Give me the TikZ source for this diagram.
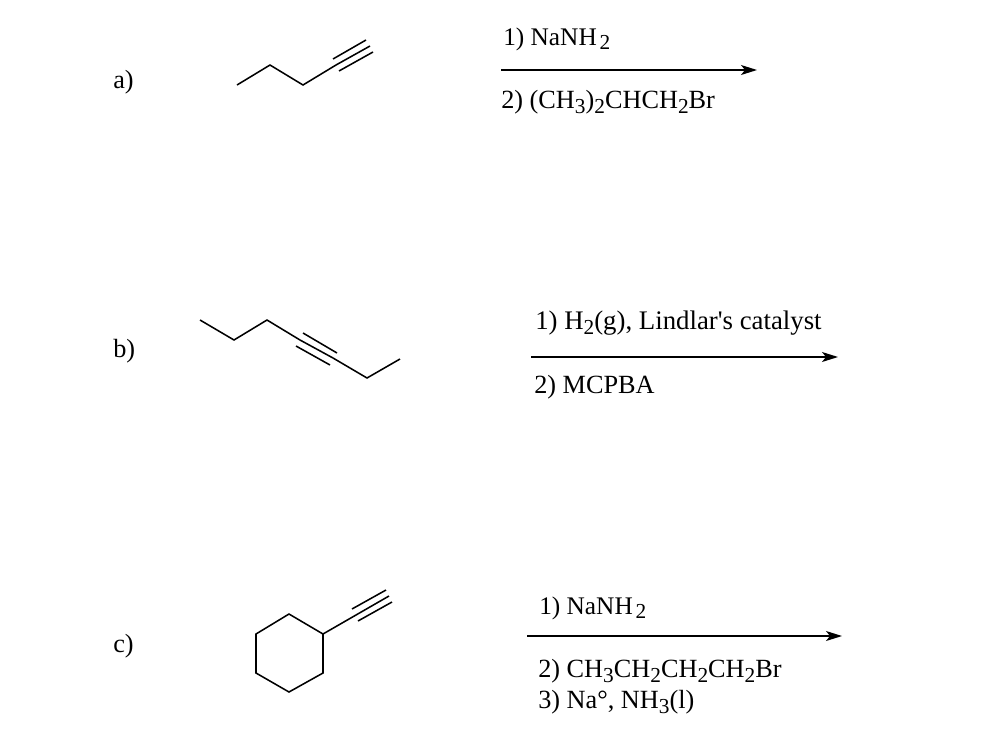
\documentclass[tikz,border=0pt]{standalone}
\usepackage{fontspec}
\setmainfont{Liberation Serif}
\newfontfamily\plainserif{Liberation Serif}
\usetikzlibrary{arrows.meta}
\newcommand{\dn}[1]{\raisebox{-0.42ex}{\fontsize{16}{16}\selectfont #1}}
\tikzset{
  reagent/.style={anchor=base west,inner sep=0,font=\fontsize{19.7}{22}\selectfont},
  reagenttop/.style={reagent,font=\fontsize{19}{22}\selectfont},
  reagentwide/.style={reagent,font=\fontsize{20.1}{22}\selectfont},
  itemlabel/.style={anchor=base west,inner sep=0,font=\fontsize{19.7}{22}\selectfont},
  bond/.style={line width=1.15pt,line join=miter},
  rxnarrow/.style={line width=1.05pt,-{Stealth[length=12pt,width=7.5pt,inset=3pt]}}
}
\begin{document}
\begin{tikzpicture}[x=0.75pt,y=-0.75pt]
\useasboundingbox (0,0) rectangle (1000,740);
% a)
\node[itemlabel](La)at(113,88){a)};
\coordinate(A1)at(237,85);
\coordinate(A2)at(270,65);
\coordinate(A3)at(303,85);
\coordinate(A4)at(336,65);
\coordinate(A5)at(370,46);
\coordinate(A6)at(333,59);
\coordinate(A7)at(366,40);
\coordinate(A8)at(339,71);
\coordinate(A9)at(373,52);
\draw[bond](A1)--(A2)--(A3)--(A4)--(A5);
\draw[bond](A6)--(A7);
\draw[bond](A8)--(A9);
\coordinate(Sa)at(501,70);
\coordinate(Ea)at(757,70);
\draw[rxnarrow](Sa)--(Ea);
\node[reagenttop](Ra1)at(503,45){1) NaNH\kern2pt\dn{2}};
\node[reagent](Ra2)at(501,108){2) (CH\dn{3})\dn{2}CHCH\dn{2}Br};
% b)
\node[itemlabel](Lb)at(113,357){b)};
\coordinate(B1)at(200,320);
\coordinate(B2)at(234,340);
\coordinate(B3)at(267,320);
\coordinate(B4)at(300,340);
\coordinate(B5)at(333,358);
\coordinate(B6)at(367,378);
\coordinate(B7)at(400,359);
\coordinate(B8)at(303,333);
\coordinate(B9)at(337,353);
\coordinate(B10)at(296,346);
\coordinate(B11)at(330,365);
\draw[bond](B1)--(B2)--(B3)--(B4)--(B5)--(B6)--(B7);
\draw[bond](B8)--(B9);
\draw[bond](B10)--(B11);
\coordinate(Sb)at(531,357);
\coordinate(Eb)at(838,357);
\draw[rxnarrow](Sb)--(Eb);
\node[reagentwide](Rb1)at(535,329){1) H\dn{2}(g), Lindlar{\plainserif '}s catalyst};
\node[reagent](Rb2)at(534,393){2) MCPBA};
% c)
\node[itemlabel](Lc)at(113,652){c)};
\coordinate(C1)at(289,614);
\coordinate(C2)at(323,634);
\coordinate(C3)at(323,673);
\coordinate(C4)at(289,692);
\coordinate(C5)at(256,673);
\coordinate(C6)at(256,634);
\coordinate(C7)at(356,615);
\coordinate(C8)at(389,596);
\coordinate(C9)at(352,609);
\coordinate(C10)at(386,590);
\coordinate(C11)at(358,621);
\coordinate(C12)at(392,602);
\draw[bond](C1)--(C2)--(C3)--(C4)--(C5)--(C6)--cycle;
\draw[bond](C2)--(C7)--(C8);
\draw[bond](C9)--(C10);
\draw[bond](C11)--(C12);
\coordinate(Sc)at(527,636);
\coordinate(Ec)at(842,636);
\draw[rxnarrow](Sc)--(Ec);
\node[reagenttop](Rc1)at(539,614){1) NaNH\kern2pt\dn{2}};
\node[reagent](Rc2)at(538,677){2) CH\dn{3}CH\dn{2}CH\dn{2}CH\dn{2}Br};
\node[reagent](Rc3)at(538,708){3) Na°, NH\dn{3}(l)};
\end{tikzpicture}
\end{document}
